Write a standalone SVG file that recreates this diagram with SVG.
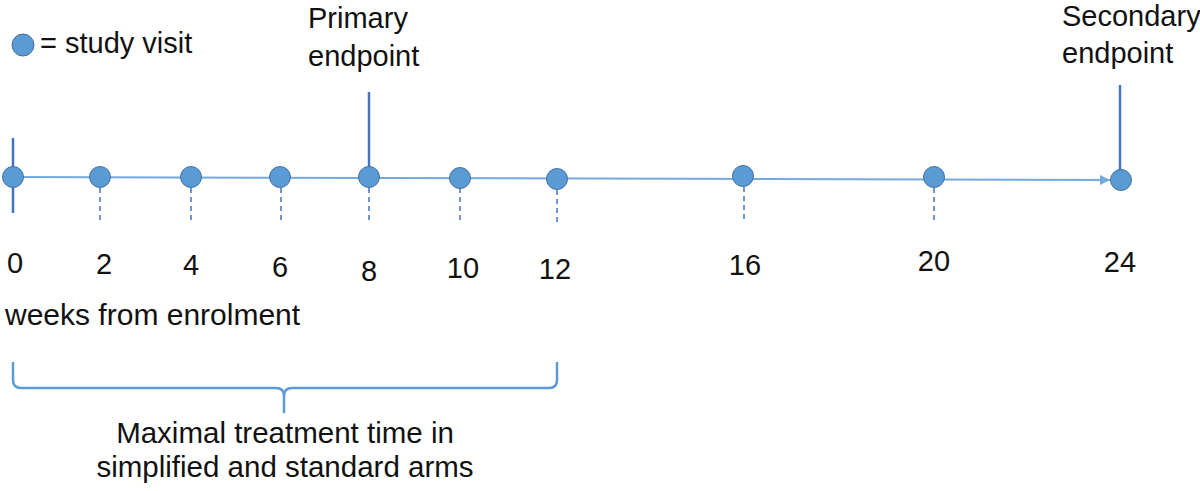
<svg xmlns="http://www.w3.org/2000/svg" width="1200" height="491" viewBox="0 0 1200 491">
<defs>
<style>
.visit{fill:#5b9bd5;stroke:#41719c;stroke-width:1}
.txt{font-family:"Liberation Sans",Arial,sans-serif;font-size:29px;fill:#111}
.big{font-size:30px}
.span{font-size:29.5px}
.num{font-family:"Liberation Sans",Arial,sans-serif;font-size:29px;fill:#111;text-anchor:middle}
.mid{text-anchor:middle}
.solid{stroke:#4472c4;stroke-width:2.5;fill:none}
.dash{stroke:#4472c4;stroke-width:1.5;stroke-dasharray:5 4;fill:none}
.axis{stroke:#5b9bd5;stroke-width:2;fill:none;opacity:0.85}
</style>
<marker id="arrow" viewBox="0 0 10 10" refX="10" refY="5" markerWidth="10" markerHeight="10" markerUnits="userSpaceOnUse" orient="auto">
<path d="M0,0 L10,5 L0,10 Z" fill="#5b9bd5"/>
</marker>
</defs>
<rect width="1200" height="491" fill="#ffffff"/>

<g id="legend">
<circle class="visit" cx="23" cy="45" r="11"/>
<text class="txt" x="40" y="53">= study visit</text>
</g>

<g id="connectors">
<line class="axis" x1="13" y1="177" x2="1110" y2="180" marker-end="url(#arrow)"/>
<line class="solid" x1="13" y1="138" x2="13" y2="213"/>
<line class="solid" x1="369" y1="92" x2="369" y2="177"/>
<line class="solid" x1="1120" y1="85" x2="1120" y2="180"/>
<line class="dash" x1="100" y1="188" x2="100" y2="222"/>
<line class="dash" x1="191" y1="188" x2="191" y2="222"/>
<line class="dash" x1="281" y1="188" x2="281" y2="222"/>
<line class="dash" x1="369" y1="188" x2="369" y2="222"/>
<line class="dash" x1="460" y1="188" x2="460" y2="222"/>
<line class="dash" x1="557" y1="190" x2="557" y2="223"/>
<line class="dash" x1="744" y1="187" x2="744" y2="221"/>
<line class="dash" x1="934" y1="188" x2="934" y2="222"/>
<path d="M13,362 V380 Q13,388 21,388 H276 Q284,388 284,396 V413 M284,396 Q284,388 292,388 H549 Q557,388 557,380 V362" fill="none" stroke="#5b9bd5" stroke-width="2.5"/>
</g>

<g id="visit-0"><circle class="visit" cx="13" cy="177" r="10.5"/><text class="num" x="15" y="273">0</text></g>
<g id="visit-2"><circle class="visit" cx="100" cy="177" r="10.5"/><text class="num" x="104" y="274">2</text></g>
<g id="visit-4"><circle class="visit" cx="191" cy="177" r="10.5"/><text class="num" x="191" y="275">4</text></g>
<g id="visit-6"><circle class="visit" cx="280" cy="177" r="10.5"/><text class="num" x="280" y="277">6</text></g>
<g id="visit-8"><circle class="visit" cx="369" cy="177" r="10.5"/><text class="num" x="369" y="281">8</text></g>
<g id="visit-10"><circle class="visit" cx="460" cy="178" r="10.5"/><text class="num" x="463" y="278">10</text></g>
<g id="visit-12"><circle class="visit" cx="557" cy="179" r="10.5"/><text class="num" x="555" y="279">12</text></g>
<g id="visit-16"><circle class="visit" cx="743" cy="176" r="10.5"/><text class="num" x="745" y="275">16</text></g>
<g id="visit-20"><circle class="visit" cx="934" cy="177" r="10.5"/><text class="num" x="934" y="271">20</text></g>
<g id="visit-24"><circle class="visit" cx="1121" cy="180" r="10.5"/><text class="num" x="1120" y="272">24</text></g>

<g id="primary-endpoint">
<text class="txt" x="308" y="28">Primary</text>
<text class="txt" x="308" y="66">endpoint</text>
</g>
<g id="secondary-endpoint">
<text class="txt" x="1062" y="26">Secondary</text>
<text class="txt" x="1062" y="63">endpoint</text>
</g>
<g id="axis-label">
<text class="txt big" x="5" y="325">weeks from enrolment</text>
</g>
<g id="treatment-span">
<text class="txt span mid" x="285" y="443">Maximal treatment time in</text>
<text class="txt span mid" x="285" y="477">simplified and standard arms</text>
</g>
</svg>
